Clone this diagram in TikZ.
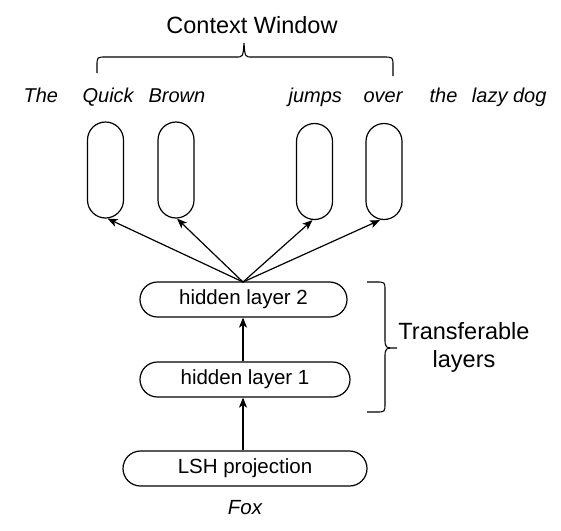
\documentclass[tikz,border=0pt]{standalone}
\usepackage{fontspec}
\setmainfont{Liberation Sans}
\usetikzlibrary{arrows.meta}
\begin{document}
\begin{tikzpicture}[x=1pt,y=-1pt,
  line width=1.2pt,
  lay/.style={draw, rounded corners=17.5pt, minimum height=35pt, inner sep=0pt, font=\fontsize{20.5}{24}\selectfont},
  wordbox/.style={draw, rounded corners=18pt, minimum width=36pt, minimum height=96pt, inner sep=0pt},
  word/.style={anchor=base west, inner sep=0pt, font=\fontsize{20}{24}\selectfont\itshape},
  arr/.style={-{Stealth[length=10pt,width=8pt,inset=2.5pt]}}
]
\useasboundingbox (0,0) rectangle (561,530);

% title
\node[inner sep=0pt, font=\fontsize{23.5}{28}\selectfont] (title) at (252,25) {Context Window};

% top brace
\draw[line width=1.1pt] (97,73) -- (97,66) .. controls (97,57) .. (106,57) -- (236,57)
  .. controls (243,57) .. (244,43) .. controls (245,57) .. (252,57) -- (383,57)
  .. controls (393,57) .. (393,66) -- (393,76);

% words
\node[word] (w1) at (23,102) {The};
\node[word] (w2) at (82,102) {Quick};
\node[word] (w3) at (148,102) {Brown};
\node[word] (w4) at (288,102) {jumps};
\node[word] (w5) at (363,102) {over};
\node[word] (w6) at (429,102) {the\hspace{0.45em} lazy dog};

% word ovals
\node[wordbox] (q) at (105.5,170) {};
\node[wordbox] (b) at (176,170) {};
\node[wordbox] (j) at (314.5,171.5) {};
\node[wordbox] (o) at (384,171.5) {};

% layers
\node[lay, minimum width=207pt] (h2) at (243.5,299.5) {hidden layer 2};
\node[lay, minimum width=210pt] (h1) at (245,379.5) {hidden layer 1};
\node[lay, minimum width=244pt] (lsh) at (245,468.5) {LSH projection};
\node[inner sep=0pt, font=\fontsize{20.5}{24}\selectfont\itshape] (fox) at (245,508) {Fox};

% arrows
\draw[arr] (lsh.north -| 243,0) -- (h1.south -| 243,0);
\draw[arr] (h1.north -| 243,0) -- (h2.south -| 243,0);
\coordinate (fan) at (243,282);
\draw[arr] (fan) -- ([xshift=2pt]q.south);
\draw[arr] (fan) -- ([xshift=1pt]b.south);
\draw[arr] (fan) -- ([xshift=-2pt]j.south);
\draw[arr] (fan) -- ([xshift=-4pt]o.south);

% right brace
\draw[line width=1.1pt] (367,282) -- (376,282) .. controls (385,282) .. (385,291) -- (385,338)
  .. controls (385,348) .. (397,348) .. controls (385,348) .. (385,358) -- (385,403)
  .. controls (385,412) .. (376,412) -- (367,412);

\node[inner sep=0pt, align=center, font=\fontsize{23.5}{28}\selectfont] (tl) at (464,347) {Transferable\\layers};
\end{tikzpicture}
\end{document}
